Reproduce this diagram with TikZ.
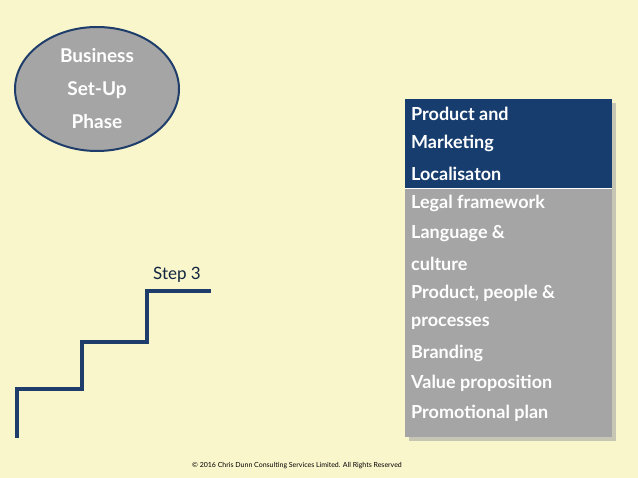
\documentclass[tikz,border=0pt]{standalone}
\usepackage{fontspec}
\setmainfont{Lato}
\usetikzlibrary{shapes.geometric}
\definecolor{bg}{HTML}{FAF6CC}
\definecolor{navy}{HTML}{1E3D6B}
\definecolor{hdr}{HTML}{173D6E}
\definecolor{gry}{HTML}{A5A5A5}
\tikzset{boxtxt/.style={anchor=west,text=white,font=\bfseries\fontsize{18}{20}\selectfont,inner sep=0pt}}
\begin{document}
\begin{tikzpicture}[x=1pt,y=-1pt]
\fill[bg] (0,0) rectangle (638,478);
\useasboundingbox (0,0) rectangle (638,478);
\node[ellipse,draw=navy,line width=2pt,fill=gry,minimum width=164pt,minimum height=124pt,align=center,text=white,font=\bfseries\fontsize{19}{33}\selectfont] (ph) at (97,89) {Business\\Set-Up\\Phase};
\fill[black!35,opacity=0.6] (409,103) rectangle (616,441);
\fill[gry] (405,189) rectangle (612,437);
\fill[hdr] (405,99) rectangle (612,189);
\draw[white,line width=1pt] (405,189) -- (612,189);
\foreach \t [count=\i] in {Product and,Marketing,Localisaton,Legal framework,Language \&,culture,{Product, people \&},processes,Branding,Value proposition,Promotional plan}
  \node[boxtxt] (t\i) at (411,{114+29.9*(\i-1)}) {\t};
\coordinate (s0) at (17,438);
\draw[navy,line width=3.5pt] (s0) |- (82,389) |- (147,342) |- (211,291);
\node[font=\fontsize{17}{20}\selectfont,text=navy!60!black] (st) at (177,275) {Step 3};
\node[font=\fontsize{7}{8}\selectfont] (cp) at (297,466) {© 2016 Chris Dunn Consulting Services Limited. All Rights Reserved};
\end{tikzpicture}
\end{document}
